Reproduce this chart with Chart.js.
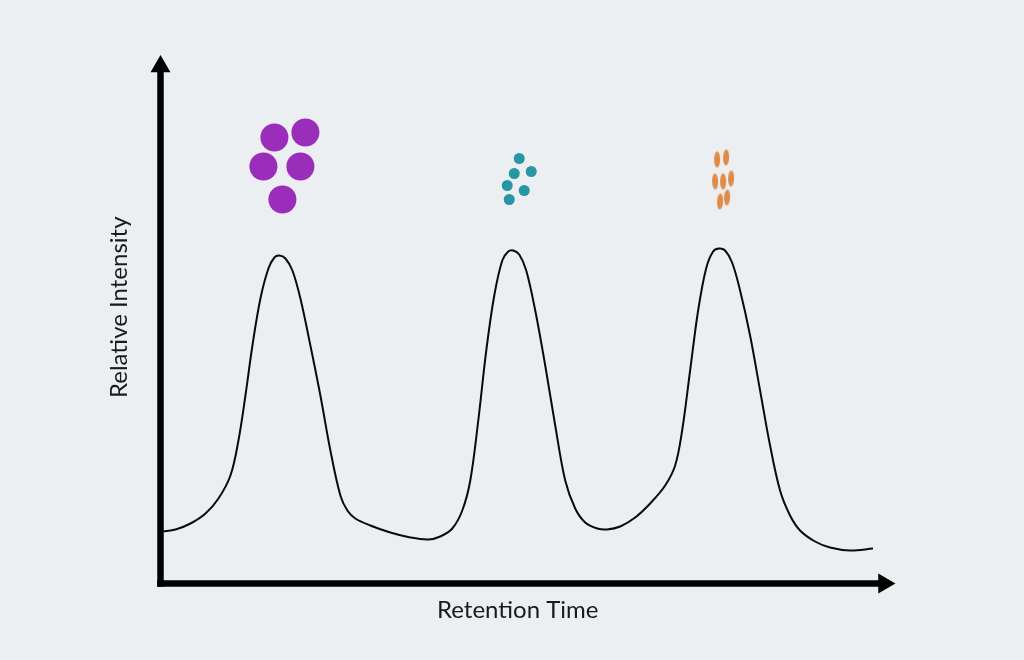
<!DOCTYPE html>
<html>
<head>
<meta charset="utf-8">
<title>Retention Time</title>
<script src="https://cdn.jsdelivr.net/npm/chart.js@4/dist/chart.umd.min.js"></script>
<style>
    html, body { margin: 0; padding: 0; background: #eceff1; }
    canvas { display: block; }
</style>
</head>
<body>
<canvas id="grafico" width="1024" height="660"></canvas>
<script>
const tempo = [2,15,30,45,58,70,78,85,92,100,108,114,119,125,132,140,150,160,170,180,187,195,210,230,250,268,280,292,302,310,318,326,334,342,348,353,359,366,375,385,395,405,415,425,437,447,460,475,490,505,515,522,530,538,546,553,559,565,572,580,590,600,610,620,630,640,655,670,690,713]
const intensidade = [52,54,60,70,85,108,143,188,238,285,315,326,328,325,313,285,238,188,133,88,73,65,58,51,46,44,47,55,73,103,163,233,288,323,332,333,329,313,273,218,158,103,75,61,55,54,57,66,80,98,118,153,213,273,315,332,335,333,321,293,248,193,138,93,68,53,42,36,33,35]

const roxoX = [114,145,103,140,122]
const roxoY = [446,451,417,417,384]
const verdeX = [359,371,354,347,364,349]
const verdeY = [425,412,410,398,393,384]
const laranjaX = [557,566,555,563,571,560,567]
const laranjaY = [424,426,402,402,405,382,386]
const laranjaGiro = [0,2,-2,0,2,3,3]

const eixoX = [0,724]
const eixoY = [0,517]

function pontos(xs, ys){
    return xs.map((x, i) => ({ x, y: ys[i] }))
}

function elipse(){
    const c = document.createElement("canvas")
    c.width = 8
    c.height = 18
    const ctx = c.getContext("2d")
    ctx.fillStyle = "#e08b48"
    ctx.beginPath()
    ctx.ellipse(4, 9, 3, 8, 0, 0, Math.PI * 2)
    ctx.fill()
    return c
}

new Chart(document.getElementById("grafico"), {
    type: "scatter",
    data: {
        datasets: [
            {
                data: pontos(tempo, intensidade),
                showLine: true,
                tension: 0.35,
                borderColor: "#0a0a0a",
                borderWidth: 2,
                pointRadius: 0
            },
            {
                data: pontos(roxoX, roxoY),
                pointRadius: 14,
                backgroundColor: "#9a2db9",
                borderWidth: 0
            },
            {
                data: pontos(verdeX, verdeY),
                pointRadius: 5.5,
                backgroundColor: "#2796a5",
                borderWidth: 0
            },
            {
                data: pontos(laranjaX, laranjaY),
                pointStyle: elipse(),
                rotation: laranjaGiro
            },
            {
                // eixo horizontal com a seta na ponta
                data: pontos(eixoX, [0, 0]),
                showLine: true,
                borderColor: "#000",
                borderWidth: 6.5,
                borderCapStyle: "square",
                pointStyle: "triangle",
                pointRadius: [0, 11.5],
                rotation: 90,
                backgroundColor: "#000",
                pointBorderWidth: 0,
                clip: false
            },
            {
                // eixo vertical com a seta na ponta
                data: pontos([0, 0], eixoY),
                showLine: true,
                borderColor: "#000",
                borderWidth: 6.5,
                borderCapStyle: "square",
                pointStyle: "triangle",
                pointRadius: [0, 11.5],
                backgroundColor: "#000",
                pointBorderWidth: 0,
                clip: false
            }
        ]
    },
    options: {
        responsive: false,
        animation: false,
        events: [],
        layout: { padding: { top: 31, right: 149, left: 0, bottom: 0 } },
        plugins: { legend: { display: false }, tooltip: { enabled: false } },
        scales: {
            x: {
                type: "linear",
                min: 0,
                max: 715,
                afterFit: s => { s.height = 76.5 },
                grid: { display: false },
                border: { display: false },
                ticks: { display: false },
                title: {
                    display: true,
                    text: "Retention Time",
                    color: "#1a1a1a",
                    font: { family: "Lato", size: 24 },
                    padding: { top: 0, bottom: 35 }
                }
            },
            y: {
                type: "linear",
                min: 0,
                max: 552.5,
                afterFit: s => { s.width = 160.5 },
                grid: { display: false },
                border: { display: false },
                ticks: { display: false },
                title: {
                    display: true,
                    text: "Relative Intensity",
                    color: "#1a1a1a",
                    font: { family: "Lato", size: 24 },
                    padding: { top: 105, bottom: 0 }
                }
            }
        }
    }
})
</script>
</body>
</html>
